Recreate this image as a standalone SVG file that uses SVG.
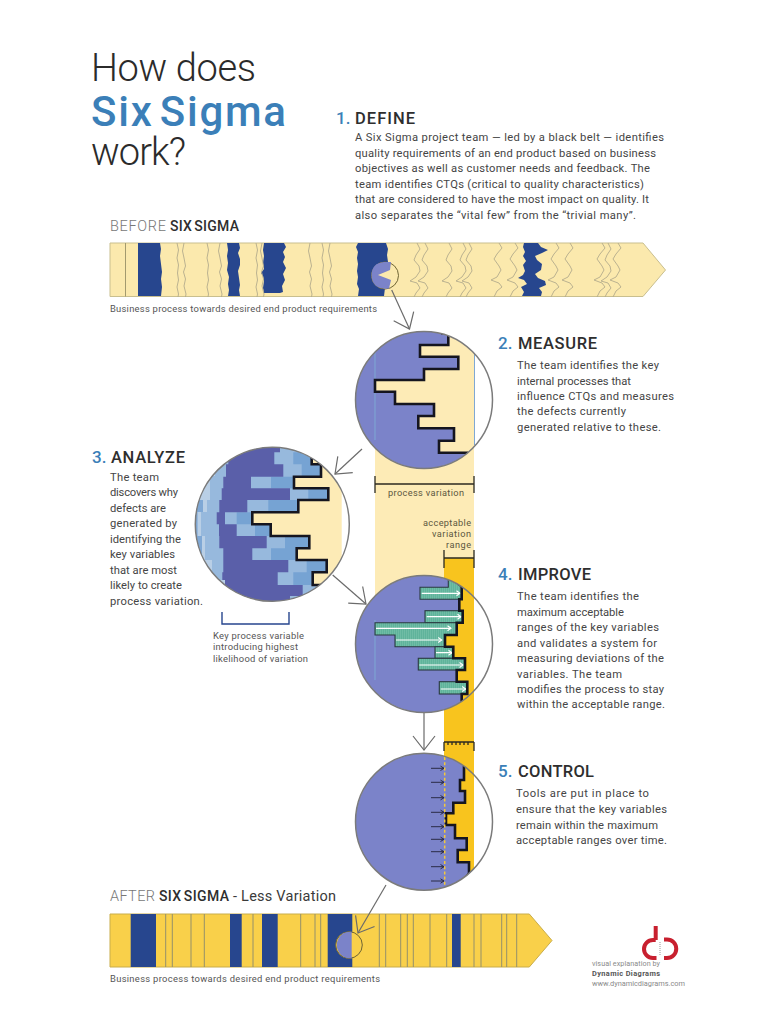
<svg xmlns="http://www.w3.org/2000/svg" xmlns:xlink="http://www.w3.org/1999/xlink" width="768" height="1024" viewBox="0 0 768 1024">
<style>
text{font-family:"Roboto","Liberation Sans",sans-serif;fill:#3a3a3a}
.body{font-size:11.2px;fill:#454545}
.num{font-size:17px;font-weight:500;fill:#3b7fb8}
.head{font-size:16.5px;font-weight:500;fill:#2e2e2e}
.cap{font-size:9.4px;fill:#555}
.sub{font-size:14.5px;font-weight:300;fill:#777}
.subb{font-size:14px;font-weight:500;fill:#2e2e2e}
.small{font-size:9.2px;fill:#5c5740}
.wv{fill:none;stroke:#b3ab8c;stroke-width:.9}
.navy{fill:#27468e}
.ring{fill:none;stroke:#7b7b7b;stroke-width:1.5}
.pur{fill:#7b83c9}
.step{fill:none;stroke:#15151f;stroke-width:2.6}
.conn{fill:none;stroke:#6b6b6b;stroke-width:1.2;marker-end:url(#open)}
.gr{fill:url(#hatch);stroke:#2a3a40;stroke-width:1.1}
.wa{stroke:#fff;stroke-width:1.2;marker-end:url(#wh)}
.ba{stroke:#2b2b45;stroke-width:1;marker-end:url(#bl)}
.mk{fill:none;stroke:#2c2a20;stroke-width:1.3}
.ln{stroke:#a39a6e;stroke-width:1}
</style>
<defs>
<marker id="open" markerUnits="userSpaceOnUse" markerWidth="30" markerHeight="30" viewBox="-16 -15 30 30" refX="0" refY="0" orient="auto"><path d="M-14,-11 L0,0 L-14,11" fill="none" stroke="#6b6b6b" stroke-width="1.2"/></marker>
<marker id="wh" markerUnits="userSpaceOnUse" markerWidth="8" markerHeight="8" viewBox="-5 -4 8 8" orient="auto"><path d="M-3.5,-2.5 L0,0 L-3.5,2.5" fill="none" stroke="#fff" stroke-width="1.1"/></marker>
<marker id="bl" markerUnits="userSpaceOnUse" markerWidth="8" markerHeight="8" viewBox="-5 -4 8 8" orient="auto"><path d="M-3.5,-2.2 L0,0 L-3.5,2.2" fill="none" stroke="#2b2b45" stroke-width="1"/></marker>
<pattern id="hatch" patternUnits="userSpaceOnUse" width="2" height="4"><rect width="2" height="4" fill="#5fb39b"/><rect width="0.6" height="4" fill="#79c2ac"/></pattern>
<path id="w1" d="M0 243l1.500 7-1.500 8 1.500 7-1 8 1 7-1.500 7 1.500 7-.5 3"/>
<path id="w2" d="M0 243l-1.500 8 1.500 7 1.500 8-2 6 2 7-1.500 7 2 8-.5 3"/>
<path id="w3" d="M0 243l3 6-4 6-2 5 5 6 1 5-4 6-6 4 7 2 3 5-4 5-2 4"/>
<path id="w4" d="M0 243l3 5-5 6-3 5 5 7 2 4-4 7-6 3 8 3 3 4-5 4-3 6"/>
<clipPath id="c2"><circle cx="424" cy="400" r="68.5"/></clipPath>
<clipPath id="c3"><circle cx="272.3" cy="524.3" r="77"/></clipPath>
<clipPath id="c4"><circle cx="424" cy="644" r="68.5"/></clipPath>
<clipPath id="c5"><circle cx="424" cy="821.7" r="68.5"/></clipPath>
</defs>

<rect width="768" height="1024" fill="#fff"/>

<g id="title">
<text x="91" y="81" font-size="38" font-weight="300" textLength="165" style="fill:#2b2b2b">How does</text>
<text x="91" y="126" font-size="42" font-weight="500" style="fill:#3b7fb8" word-spacing="-6" textLength="195">Six Sigma</text>
<text x="91" y="165" font-size="38" font-weight="300" textLength="95" style="fill:#2b2b2b">work?</text>
</g>

<g id="step-define">
<text class="num" x="336" y="124">1.</text><text class="head" x="355" y="124" textLength="60">DEFINE</text>
<text class="body" x="355" y="141" textLength="309">A Six Sigma project team — led by a black belt — identifies</text>
<text class="body" x="355" y="157" textLength="301">quality requirements of an end product based on business</text>
<text class="body" x="355" y="172" textLength="295">objectives as well as customer needs and feedback. The</text>
<text class="body" x="355" y="188" textLength="289">team identifies CTQs (critical to quality characteristics)</text>
<text class="body" x="355" y="203" textLength="294">that are considered to have the most impact on quality. It</text>
<text class="body" x="355" y="219" textLength="281">also separates the “vital few” from the “trivial many”.</text>
</g>

<g id="before-bar">
<text class="sub" x="110" y="231" textLength="56">BEFORE</text><text class="subb" x="170" y="231" word-spacing="-1.500" textLength="69">SIX SIGMA</text>
<path d="M110 243H643L665.5 270 643 296.5H110Z" fill="#fbe9ad" stroke="#c9bf8f" stroke-width="1"/>
<path class="ln" d="M125.5 243V296.5" stroke-width="1.2"/>
<g class="navy">
<path d="M138 243H160l1 6-1 7 1 8 1 8-1 7 1 8-1 9H138Z"/>
<path d="M227 243H239l1 5-2 5 2 6 0 6-2 6 1 7 1 7-1 5 1 6H228l1-6-1-6 1-7-2-7 1-7-1-7 1-6Z"/>
<path d="M264 243H284l2 4-3 5 2 5-2 5 3 6-3 6 2 6-3 6 1 6-3 1H264l-1-5 1-7-1-5-2-3 3-4-1-6 1-7-1-6Z"/>
<path d="M358 243H386l2 6-1 6 1 7 1 6-2 7-1 7-1 6-1 8H358l1-7-2-5 1-7-1-6 1-7-1-6 1-6-2-5Z"/>
<path d="M524 243H538l3 4 7 3-6 3-7 3 2 4 5 4-1 6-6 4 3 4 7 3 1 4-7 3 3 4-1 4H522l2-4-3-5 6-3-3-4-6-2 5-3 2-4-2-6 3-4-3-5 2-4-2-5Z"/>
</g>
<g class="wv">
<use href="#w1" x="177"/><use href="#w2" x="184"/><use href="#w1" x="207"/><use href="#w2" x="220"/>
<use href="#w1" x="256"/><use href="#w2" x="262"/><use href="#w2" x="310"/><use href="#w1" x="322"/><use href="#w2" x="330"/>
<use href="#w3" x="417"/><use href="#w3" x="425"/><use href="#w3" x="449"/><use href="#w3" x="463"/><use href="#w3" x="469"/>
<use href="#w4" x="499"/><use href="#w4" x="515"/><use href="#w4" x="556"/><use href="#w4" x="570"/><use href="#w4" x="602"/><use href="#w3" x="608"/><use href="#w4" x="618"/>
</g>
<circle cx="385" cy="275.500" r="13.5" fill="#fbe9ad" stroke="#6f6534" stroke-width="1"/>
<path d="M384 262L391 262 390 270 378 275 391 280 389 288.500Q372 290 371.500 275 372 263 384 262Z" class="pur"/>
<text class="cap" x="110" y="312" textLength="267">Business process towards desired end product requirements</text>
</g>

<g id="bands">
<rect x="375" y="400" width="99" height="240" fill="#fdebb6"/>
<rect x="444" y="558" width="30" height="308" fill="#f8c41e"/>
</g>

<g id="step-measure">
<text class="num" x="498" y="349">2.</text><text class="head" x="518" y="349" textLength="79">MEASURE</text>
<text class="body" x="517" y="369" textLength="142">The team identifies the key</text>
<text class="body" x="517" y="385" textLength="114">internal processes that</text>
<text class="body" x="517" y="400" textLength="157">influence CTQs and measures</text>
<text class="body" x="517" y="415" textLength="109">the defects currently</text>
<text class="body" x="517" y="431" textLength="144">generated relative to these.</text>
<g clip-path="url(#c2)">
<circle cx="424" cy="400" r="68.5" fill="#fff"/>
<rect x="375" y="320" width="99" height="160" fill="#fdebb6"/>
<path class="pur" d="M448.3 320V345H420V356.7H458.3V369H424V380H375V391.7H395V404H434V416H418.3V428.3H454V440.7H439V452.7H468.3V480H340V320Z"/>
<path d="M375 345V440M474.500 345V445" stroke="#7fa8d4" stroke-width="1" fill="none"/>
<path class="step" d="M441 333.3H448.3V345H420V356.7H458.3V369H424V380H375V391.7H395V404H434V416H418.3V428.3H454V440.7H439V452.7H468.3"/>
</g>
<circle class="ring" cx="424" cy="400" r="68.5"/>
<path class="mk" d="M375 484H474M375 476V493M474 476V493"/>
<text class="small" x="426" y="496" text-anchor="middle" textLength="76">process variation</text>
</g>

<g id="step-analyze">
<text class="num" x="92" y="463">3.</text><text class="head" x="111" y="463" textLength="74">ANALYZE</text>
<text class="body" x="110" y="481" textLength="49">The team</text>
<text class="body" x="110" y="496" textLength="68">discovers why</text>
<text class="body" x="110" y="512" textLength="56">defects are</text>
<text class="body" x="110" y="527" textLength="67">generated by</text>
<text class="body" x="110" y="543" textLength="71">identifying the</text>
<text class="body" x="110" y="558" textLength="65">key variables</text>
<text class="body" x="110" y="574" textLength="67">that are most</text>
<text class="body" x="110" y="589" textLength="72">likely to create</text>
<text class="body" x="110" y="605" textLength="93">process variation.</text>
<g clip-path="url(#c3)">
<rect x="190" y="440" width="170" height="170" fill="#fff"/>
<rect x="190" y="440" width="151.7" height="170" fill="#fdebb6"/>
<path fill="#76a3d3" d="M190 440H311.7V464.3H321V476.7H294V488.3H328.3V500H298.3V512.3H252.3V524.3H270.7V536H309.3V548.3H296.7V560H326.7V572.3H312.7V585H323.3V610H190Z"/>
<path fill="#97b9dd" d="M190 440H303.3V452.3H293.3V464.3H301.7V476.7H271V488.3H308.3V500H268.3V512.3H236.7V524.3H255V536H285V548.3H271V560H306.7V572.3H293.3V585H323.3V596H303.3V610H190Z"/>
<path fill="#5a5fa9" d="M240 443.3H280V452.3H274.3V464.3H283.3V476.7H251V488.3H290V500H247.3V512.3H225V524.3H236.7V536H266.7V548.3H252.3V560H288.3V572.3H277.7V585H302.7V596H290V606.7H243.3V596H226V585H222.3V572.3H223.3V548.3H219.3V536H219V524.3H216.7V512.3H219.3V500H221.7V488.3H223.3V476.7H226V464.3H228.3V452.3H240Z"/>
<path fill="#b9cfe6" d="M205 460H215V476H210V500H207V512H201V536H205V560H212V580H225V600H205V575H198V520H198V490H203Z"/>
<path fill="#7fa8d5" d="M190 500H203V512H197V536H202V560H190Z"/>
<path class="step" d="M311.7 456.7V464.3H321V476.7H294V488.3H328.3V500H298.3V512.3H252.3V524.3H270.7V536H309.3V548.3H296.7V560H326.7V572.3H312.7V585H323.3"/>
</g>
<circle class="ring" cx="272.3" cy="524.3" r="77"/>
<path d="M222 612V624H289V612" fill="none" stroke="#27468e" stroke-width="1.4"/>
<text class="cap" x="213" y="639" textLength="91">Key process variable</text>
<text class="cap" x="213" y="650" textLength="85">introducing highest</text>
<text class="cap" x="213" y="662" textLength="95">likelihood of variation</text>
</g>

<g id="step-improve">
<text class="num" x="498" y="580">4.</text><text class="head" x="518" y="580" textLength="73">IMPROVE</text>
<text class="body" x="517" y="600" textLength="122">The team identifies the</text>
<text class="body" x="517" y="616" textLength="107">maximum acceptable</text>
<text class="body" x="517" y="631" textLength="142">ranges of the key variables</text>
<text class="body" x="517" y="647" textLength="140">and validates a system for</text>
<text class="body" x="517" y="662" textLength="147">measuring deviations of the</text>
<text class="body" x="517" y="678" textLength="105">variables. The team</text>
<text class="body" x="517" y="693" textLength="147">modifies the process to stay</text>
<text class="body" x="517" y="708" textLength="148">within the acceptable range.</text>
<text class="small" x="471" y="526" text-anchor="end" textLength="48">acceptable</text>
<text class="small" x="471" y="537" text-anchor="end" textLength="39">variation</text>
<text class="small" x="471" y="548" text-anchor="end" textLength="25">range</text>
<path class="mk" d="M444 558H474M444 550V568M474 550V568"/>
<g clip-path="url(#c4)">
<circle cx="424" cy="644" r="68.5" fill="#fff"/>
<rect x="444" y="570" width="30" height="150" fill="#f8c41e"/>
<path class="pur" d="M453 570V580L461.7 586V599.3H459.3V610.7H462.7V622.7H456.7V635H445V646.7H453.3V658.3H465V670H456.7V681.7H467.3V694H461.7V720H350V570Z"/>
<path d="M375 620V680" stroke="#7fa8d4" stroke-width="1"/>
<path class="gr" d="M448.3 578V587.3H420V599.3H461.7V587.3L453 580Z"/>
<rect class="gr" x="425" y="610.7" width="37.7" height="12"/>
<path class="gr" d="M375 622.7H456.7V635H445V646.7H395V635H375Z"/>
<rect class="gr" x="435" y="646.7" width="18.3" height="11.6"/>
<rect class="gr" x="418.3" y="658.3" width="46.7" height="11.7"/>
<rect class="gr" x="439.3" y="681.7" width="28" height="12.3"/>
<line class="wa" x1="421.7" y1="593.3" x2="460" y2="593.3"/>
<line class="wa" x1="426.7" y1="616.7" x2="461" y2="616.7"/>
<line class="wa" x1="376" y1="628.3" x2="451" y2="628.3"/>
<line class="wa" x1="396" y1="640" x2="441.7" y2="640"/>
<line class="wa" x1="436" y1="652.7" x2="452" y2="652.7"/>
<line class="wa" x1="419.3" y1="665" x2="463" y2="665"/>
<line class="wa" x1="440.7" y1="689" x2="465.7" y2="689"/>
<path class="step" d="M453 580L461.7 586V599.3H459.3V610.7H462.7V622.7H456.7V635H445V646.7H453.3V658.3H465V670H456.7V681.7H467.3V694H461.7V706"/>
</g>
<circle class="ring" cx="424" cy="644" r="68.5"/>
</g>

<g id="step-control">
<text class="num" x="498" y="777">5.</text><text class="head" x="518" y="777" textLength="76">CONTROL</text>
<text class="body" x="516" y="797" textLength="133">Tools are put in place to</text>
<text class="body" x="516" y="813" textLength="151">ensure that the key variables</text>
<text class="body" x="516" y="829" textLength="142">remain within the maximum</text>
<text class="body" x="516" y="844" textLength="151">acceptable ranges over time.</text>
<path class="mk" d="M444 742H474M444 742V751M474 742V751M448 742V745M452 742V745M456 742V745M460 742V745M464 742V745M468 742V745" stroke-width="1.2"/>
<g clip-path="url(#c5)">
<circle cx="424" cy="821.7" r="68.5" fill="#fff"/>
<rect x="444" y="750" width="30" height="140" fill="#f8c41e"/>
<path class="pur" d="M464 750V780H460V791H465V802.7H453.3V813.3H446V825H455V838.3H466.7V850H457.7V862.3H469V873.3L464 880V895H350V750Z"/>
<path class="step" d="M464 766V780H460V791H465V802.7H453.3V813.3H446V825H455V838.3H466.7V850H457.7V862.3H469V873.3L464 880"/>
<path d="M444.7 757V888" stroke="#f4c93a" stroke-width="1.5" stroke-dasharray="3 2.2" fill="none"/>
<line class="ba" x1="431" y1="768.3" x2="444" y2="768.3"/>
<line class="ba" x1="431" y1="782.3" x2="444" y2="782.3"/>
<line class="ba" x1="431" y1="797.7" x2="444" y2="797.7"/>
<line class="ba" x1="431" y1="812.3" x2="444" y2="812.3"/>
<line class="ba" x1="431" y1="826.7" x2="444" y2="826.7"/>
<line class="ba" x1="431" y1="839.3" x2="444" y2="839.3"/>
<line class="ba" x1="431" y1="851.7" x2="444" y2="851.7"/>
<line class="ba" x1="431" y1="866.7" x2="444" y2="866.7"/>
<line class="ba" x1="431" y1="881" x2="444" y2="881"/>
</g>
<circle class="ring" cx="424" cy="821.7" r="68.5"/>
</g>

<g id="after-bar">
<text class="sub" x="110" y="901" textLength="45">AFTER</text><text class="subb" x="159" y="901" word-spacing="-1.500" textLength="70">SIX SIGMA</text><text class="sub" x="233" y="901" style="fill:#3a3a3a;font-weight:400" textLength="103">- Less Variation</text>
<path d="M110 914H529.3L552 940.5 529.3 967H110Z" fill="#f9d04a" stroke="#c9ad4a" stroke-width="1"/>
<path class="navy" d="M130.7 914H156V967H130.7ZM230 914H241.7V967H230ZM262 914H277.7V967H262ZM327.7 914H352.3V967H327.7ZM452 914H460.7V967H452Z"/>
<path class="ln" style="stroke:#94906a" d="M165.7 914V967M172.3 914V967M191 914V967M204.3 914V967M253 914V967M300.7 914V967M315 914V967M320.7 914V967M379.3 914V967M385.7 914V967M400.7 914V967M407.3 914V967M413.3 914V967M430 914V967M446.7 914V967M474 914V967M481 914V967M501.7 914V967M506.7 914V967M516.7 914V967"/>
<circle cx="349" cy="945" r="13.3" fill="#f9d04a" stroke="#6f6534" stroke-width="1"/>
<path class="pur" d="M351.7 931.8V958.2A13.3 13.3 0 1 1 351.7 931.8Z"/>
<text class="cap" x="110" y="982" textLength="270">Business process towards desired end product requirements</text>
</g>

<g id="connectors">
<path class="conn" d="M391.7 290L409.5 329"/>
<path class="conn" d="M362 449L335 474"/>
<path class="conn" d="M332.7 575L366 604"/>
<path class="conn" d="M424 713V750"/>
<path class="conn" d="M386 885L358 933"/>
</g>

<g id="credit">
<path d="M655.7 926V940M655.7 940H653A9 9 0 0 0 653 958H656.5M664 939.5H667A9.2 9.2 0 0 1 667 958H664" fill="none" stroke="#c8202f" stroke-width="4"/>
<path d="M660 942V955" stroke="#999" stroke-width="1" stroke-dasharray="1 1"/>
<text x="592" y="966" font-size="7.2" style="fill:#8a8a8a" textLength="68">visual explanation by</text>
<text x="592" y="976" font-size="7.4" font-weight="700" style="fill:#555" textLength="68">Dynamic Diagrams</text>
<text x="592" y="985.500" font-size="7.4" style="fill:#8a8a8a" textLength="93">www.dynamicdiagrams.com</text>
</g>
</svg>
